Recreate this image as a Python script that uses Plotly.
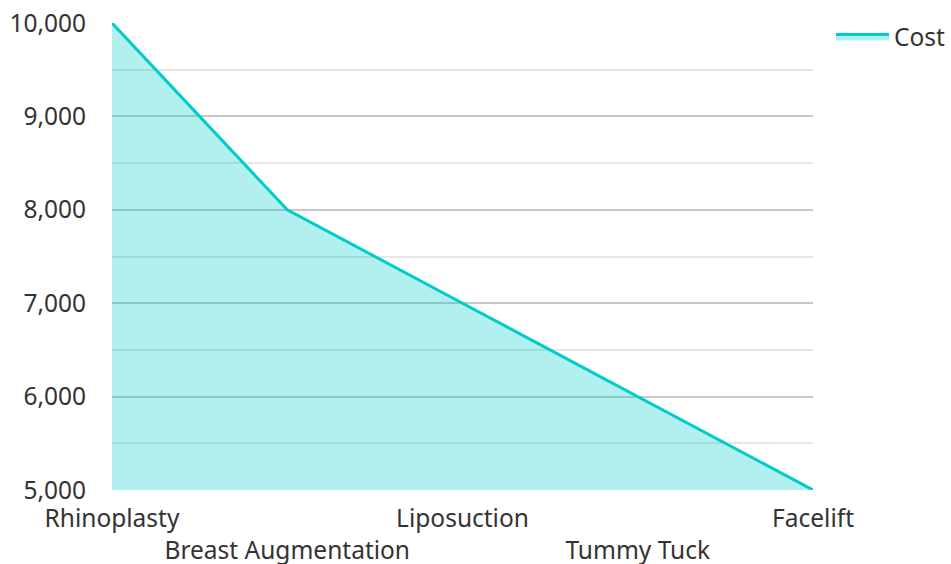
import plotly.graph_objects as go

procedures = ["Rhinoplasty", "Breast Augmentation", "Liposuction", "Tummy Tuck", "Facelift"]
cost = [10000, 8000, 7000, 6000, 5000]
y_ticks = [5000, 6000, 7000, 8000, 9000, 10000]
y_tick_labels = ["5,000", "6,000", "7,000", "8,000", "9,000", "10,000"]

# staggered x labels (every second label on a second row)
x_tick_text = [p if i % 2 == 0 else "<br>" + p for i, p in enumerate(procedures)]

fig = go.Figure()
fig.add_trace(go.Scatter(
    x=procedures, y=cost, name="Cost", mode="lines",
    line=dict(color="#00CCCC", width=3),
    fill="tozeroy", fillcolor="rgba(0,204,204,0.3)",
))

fig.update_layout(
    width=951, height=564,
    margin=dict(l=112, r=138, t=23, b=74, autoexpand=False),
    paper_bgcolor="white", plot_bgcolor="white",
    font=dict(family="Noto Sans, Open Sans, sans-serif", size=24.5, color="#333333"),
    showlegend=True,
    legend=dict(x=1.0257, y=1.019, xanchor="left", yanchor="top", itemwidth=53,
                font=dict(size=24.5, color="#333333"), bgcolor="rgba(0,0,0,0)"),
    xaxis=dict(
        type="category", range=[0, 4], automargin=False, tickangle=0,
        tickmode="array", tickvals=procedures, ticktext=x_tick_text,
        showgrid=False, zeroline=False, showline=False, ticklabeloverflow="allow",
        ticks="outside", ticklen=7, tickcolor="rgba(0,0,0,0)",
    ),
    yaxis=dict(
        range=[5000, 10000], automargin=False, ticklabeloverflow="allow",
        tickmode="array", tickvals=y_ticks, ticktext=y_tick_labels,
        showgrid=True, gridcolor="#C8C8C8", gridwidth=1.5,
        minor=dict(dtick=500, tick0=5000, showgrid=True, gridcolor="#E6E6E6", gridwidth=1.5),
        zeroline=False, showline=False,
        ticks="outside", ticklen=20, tickcolor="rgba(0,0,0,0)",
    ),
)

fig.write_html("out.html", config={"displayModeBar": False},
               post_script="document.body.style.margin='0px';")
